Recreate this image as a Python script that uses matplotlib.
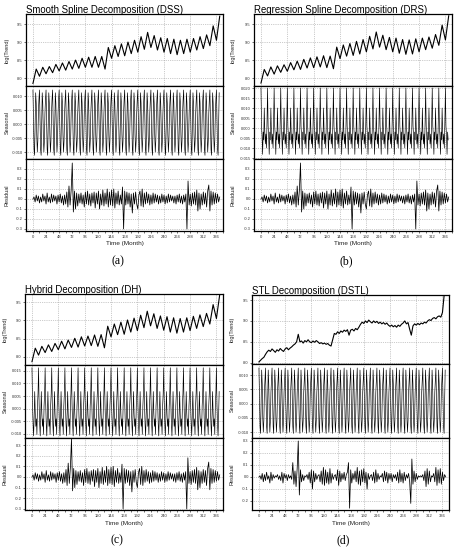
import numpy as np
import matplotlib.pyplot as plt

plt.rcParams['font.family'] = ['Liberation Sans', 'DejaVu Sans']
plt.rcParams['axes.unicode_minus'] = False

W, H = 460, 550
n_months = 342

# trend, read every 6 months (troughs and peaks of the yearly wiggle)
dss_trend = [7.85, 8.25, 8.05, 8.30, 8.12, 8.32, 8.15, 8.38, 8.20, 8.42,
             8.22, 8.46, 8.25, 8.50, 8.27, 8.55, 8.30, 8.58, 8.30, 8.60,
             8.30, 8.60, 8.25, 8.85, 8.55, 8.90, 8.60, 8.95, 8.62, 9.00,
             8.68, 9.05, 8.72, 9.15, 8.80, 9.27, 8.85, 9.18, 8.78, 9.12,
             8.72, 9.10, 8.68, 9.08, 8.65, 9.05, 8.68, 9.08, 8.72, 9.10,
             8.78, 9.15, 8.82, 9.20, 8.90, 9.45, 9.05, 9.72]
drs_trend = [7.86, 8.24, 8.06, 8.31, 8.11, 8.34, 8.16, 8.37, 8.19, 8.43,
             8.23, 8.47, 8.24, 8.52, 8.28, 8.56, 8.29, 8.59, 8.31, 8.62,
             8.29, 8.61, 8.26, 8.86, 8.54, 8.92, 8.61, 8.96, 8.63, 9.02,
             8.67, 9.07, 8.73, 9.16, 8.81, 9.28, 8.86, 9.19, 8.79, 9.13,
             8.73, 9.11, 8.69, 9.07, 8.66, 9.06, 8.67, 9.09, 8.73, 9.11,
             8.79, 9.14, 8.83, 9.21, 8.91, 9.47, 9.06, 9.73]
dh_trend = [7.87, 8.24, 8.05, 8.29, 8.12, 8.33, 8.15, 8.37, 8.20, 8.43,
            8.22, 8.46, 8.26, 8.51, 8.27, 8.55, 8.30, 8.57, 8.31, 8.60,
            8.29, 8.61, 8.25, 8.84, 8.55, 8.90, 8.61, 8.95, 8.62, 9.01,
            8.68, 9.06, 8.72, 9.14, 8.80, 9.25, 8.85, 9.18, 8.78, 9.12,
            8.73, 9.10, 8.68, 9.07, 8.65, 9.05, 8.68, 9.07, 8.72, 9.11,
            8.78, 9.15, 8.83, 9.19, 8.90, 9.43, 9.05, 9.70]
# STL trend, read every 3 months
dstl_trend = [8.02, 8.06, 8.10, 8.13, 8.20, 8.26, 8.30, 8.27, 8.33, 8.29,
              8.25, 8.31, 8.28, 8.34, 8.30, 8.27, 8.33, 8.36, 8.31, 8.35,
              8.38, 8.42, 8.45, 8.50, 8.68, 8.50, 8.52, 8.47, 8.53, 8.50,
              8.55, 8.50, 8.48, 8.52, 8.49, 8.53, 8.50, 8.46, 8.48, 8.45,
              8.47, 8.44, 8.46, 8.42, 8.40, 8.55, 8.70, 8.68, 8.74, 8.70,
              8.76, 8.73, 8.78, 8.75, 8.79, 8.66, 8.78, 8.80, 8.76, 8.82,
              8.79, 8.85, 8.92, 8.97, 8.94, 9.00, 8.96, 9.02, 8.98, 8.95,
              9.00, 8.96, 8.99, 8.94, 8.97, 8.93, 8.96, 8.92, 8.95, 8.90,
              8.87, 8.90, 8.86, 8.89, 8.85, 8.90, 8.87, 8.92, 8.95, 9.00,
              8.93, 8.96, 8.80, 8.66, 8.88, 8.93, 8.90, 8.94, 8.91, 8.95,
              8.93, 8.97, 8.95, 9.00, 9.03, 9.01, 9.06, 9.08, 9.05, 9.10,
              9.12, 9.09, 9.20, 9.60]

# one year (months 0..11) of each seasonal component
dss_season = [0.0122, 0.0020, -0.0090, -0.0112, 0.0010, 0.0112,
              0.0075, -0.0040, -0.0100, -0.0060, 0.0040, 0.0090]
drs_season = [0.0200, 0.0010, -0.0040, -0.0132, -0.0020, -0.0060,
              0.0100, -0.0020, -0.0080, -0.0030, -0.0100, 0.0030]
dh_season = [0.0162, 0.0020, -0.0060, -0.0108, -0.0030, 0.0068,
             -0.0020, -0.0070, -0.0040, -0.0102, 0.0010, 0.0060]
dstl_season = [0.0125, 0.0030, -0.0080, -0.0105, 0.0000, 0.0118,
               0.0070, -0.0050, -0.0100, -0.0060, 0.0040, 0.0080]

# residuals, read every 2 months
resid_spline = [0.00, 0.02, -0.03, 0.04, -0.02, 0.03, -0.04, 0.02, -0.03, 0.05,
                -0.02, 0.03, -0.05, 0.06, -0.03, 0.02, -0.04, 0.05, -0.03, 0.04,
                -0.02, 0.03, -0.05, 0.04, -0.03, 0.05, -0.04, 0.03, -0.06, 0.04,
                -0.05, 0.07, -0.08, 0.13, -0.06, 0.09, 0.36, -0.13, 0.08, -0.10,
                0.06, -0.07, 0.05, -0.04, 0.06, -0.05, 0.04, -0.08, 0.07, -0.05,
                0.08, -0.06, 0.05, -0.07, 0.06, -0.04, 0.07, -0.09, 0.06, -0.05,
                0.08, -0.10, 0.05, -0.06, 0.09, -0.07, 0.06, -0.05, 0.10, -0.08,
                0.07, -0.06, 0.09, -0.07, 0.10, -0.09, 0.06, -0.05, 0.08, -0.06,
                0.04, -0.05, 0.12, -0.30, 0.08, -0.06, 0.07, -0.05, 0.06, -0.08,
                0.05, -0.14, 0.06, -0.05, 0.07, -0.05, -0.10, 0.04, 0.08, -0.07,
                0.10, -0.08, 0.06, -0.05, 0.07, -0.04, 0.05, -0.06, 0.04, -0.05,
                0.06, -0.04, 0.05, -0.03, 0.04, -0.05, 0.03, -0.04, 0.05, -0.03,
                0.04, -0.05, 0.03, -0.04, 0.05, -0.03, 0.04, -0.02, 0.03, -0.04,
                0.03, -0.05, 0.04, -0.03, 0.05, -0.04, 0.03, -0.05, 0.04, -0.03,
                0.05, -0.30, 0.18, -0.06, 0.05, -0.07, 0.06, -0.05, 0.07, -0.06,
                0.09, -0.12, 0.06, -0.10, 0.05, -0.06, 0.07, -0.05, 0.06, -0.08,
                0.08, 0.14, -0.12, 0.08, -0.06, 0.07, -0.05, 0.06, -0.04, 0.05,
                -0.03, 0.02]
resid_stl = [0.00, 0.01, -0.02, 0.03, -0.04, 0.02, -0.03, 0.04, -0.02, 0.01,
             -0.05, 0.04, -0.03, 0.02, -0.01, 0.01, 0.00, 0.02, -0.02, 0.01,
             -0.03, 0.04, -0.05, 0.03, -0.01, 0.02, -0.03, 0.02, -0.01, 0.01,
             -0.02, 0.12, -0.06, 0.05, -0.08, 0.07, 0.30, -0.15, 0.06, -0.04,
             0.02, -0.03, 0.01, 0.00, 0.02, -0.02, 0.04, -0.05, 0.06, -0.10,
             0.05, -0.04, 0.03, -0.02, 0.01, 0.02, -0.04, 0.05, -0.06, 0.08,
             -0.07, 0.06, -0.05, 0.04, -0.06, 0.07, -0.05, 0.03, -0.02, 0.01,
             0.02, -0.03, 0.06, -0.07, 0.05, -0.04, 0.03, -0.02, 0.04, -0.03,
             0.02, 0.04, 0.12, -0.26, 0.06, -0.05, 0.03, -0.02, 0.05, -0.04,
             0.08, -0.06, 0.05, -0.07, 0.06, -0.04, 0.07, -0.05, 0.04, -0.10,
             0.03, -0.02, 0.01, 0.02, -0.03, 0.04, -0.05, 0.06, -0.04, 0.03,
             -0.02, 0.01, 0.00, 0.03, -0.04, 0.05, -0.03, 0.04, -0.05, 0.03,
             -0.02, 0.03, -0.04, 0.02, -0.01, 0.02, -0.03, 0.04, -0.05, 0.06,
             -0.04, 0.03, -0.05, 0.04, -0.03, 0.02, -0.01, 0.03, -0.04, -0.22,
             0.15, -0.06, 0.05, -0.04, 0.03, -0.02, 0.01, 0.00, 0.01, 0.00,
             0.02, -0.03, 0.05, -0.08, 0.07, -0.06, 0.05, -0.04, 0.01, 0.00,
             0.03, -0.04, 0.08, -0.07, 0.06, -0.05, 0.07, -0.06, 0.04, -0.03,
             0.02, 0.00]

x_ticks = np.arange(0, 337, 24)
trend_ticks = [8.0, 8.5, 9.0, 9.5]

panels = [
    dict(title='Smooth Spline Decomposition (DSS)', cap='(a)',
         box=(26, 223), rows=(14, 86, 159, 231), ylab_x=7,
         trend=dss_trend, step=6, season=dss_season, resid=resid_spline,
         tlim=(7.78, 9.78), slim=(-0.0125, 0.0136), rlim=(-0.32, 0.40),
         sticks=[-0.010, -0.005, 0.0, 0.005, 0.010],
         rticks=[-0.3, -0.2, -0.1, 0.0, 0.1, 0.2, 0.3]),
    dict(title='Regression Spline Decomposition (DRS)', cap='(b)',
         box=(254, 452), rows=(14, 86, 159, 231), ylab_x=233,
         trend=drs_trend, step=6, season=drs_season, resid=resid_spline,
         tlim=(7.78, 9.78), slim=(-0.0155, 0.021), rlim=(-0.32, 0.40),
         sticks=[-0.015, -0.010, -0.005, 0.0, 0.005, 0.010, 0.015, 0.020],
         rticks=[-0.3, -0.2, -0.1, 0.0, 0.1, 0.2, 0.3]),
    dict(title='Hybrid Decomposition (DH)', cap='(c)',
         box=(25, 223), rows=(294, 365, 438, 510), ylab_x=5,
         trend=dh_trend, step=6, season=dh_season, resid=resid_spline,
         tlim=(7.78, 9.72), slim=(-0.0116, 0.0173), rlim=(-0.31, 0.366),
         sticks=[-0.010, -0.005, 0.0, 0.005, 0.010, 0.015],
         rticks=[-0.3, -0.2, -0.1, 0.0, 0.1, 0.2, 0.3]),
    dict(title='STL Decomposition (DSTL)', cap='(d)',
         box=(252, 449), rows=(295, 364, 438, 510), ylab_x=232,
         trend=dstl_trend, step=3, season=dstl_season, resid=resid_stl,
         tlim=(7.97, 9.62), slim=(-0.0121, 0.0139), rlim=(-0.275, 0.325),
         sticks=[-0.010, -0.005, 0.0, 0.005, 0.010],
         rticks=[-0.2, -0.1, 0.0, 0.1, 0.2, 0.3]),
]

fig = plt.figure(figsize=(W / 100, H / 100), dpi=100)


def px_axes(left, right, top, bottom):
    return fig.add_axes([left / W, 1 - bottom / H, (right - left) / W, (bottom - top) / H])


def style(ax, ylim, yticks, fmt, bottom_axis):
    ax.set_xlim(-12.7, 345.5)
    ax.set_ylim(*ylim)
    ax.set_yticks(yticks)
    ax.set_yticklabels([fmt % v for v in yticks])
    ax.tick_params(axis='y', labelsize=2.9, length=1.5, width=0.4, pad=0.8,
                   labelcolor='#333')
    ax.set_xticks(x_ticks)
    ax.set_xticks(x_ticks + 12, minor=True)
    if bottom_axis:
        ax.set_xticklabels([str(v) for v in x_ticks])
        ax.tick_params(axis='x', which='both', labelsize=3.0, length=1.5,
                       width=0.4, pad=1.2, labelcolor='#333')
    else:
        ax.tick_params(axis='x', which='both', length=0, labelbottom=False)
    ax.set_axisbelow(True)
    ax.grid(axis='y', linestyle=':', color='#9a9a9a', linewidth=0.5)
    for g in range(0, 337, 48):
        ax.axvline(g, linestyle=':', color='#9a9a9a', linewidth=0.5, zorder=0)
    for s in ax.spines.values():
        s.set_linewidth(0.9)


months = np.arange(n_months)
for p in panels:
    left, right = p['box']
    r0, r1, r2, r3 = p['rows']

    ax_t = px_axes(left, right, r0, r1)
    tx = np.arange(len(p['trend'])) * p['step']
    ax_t.plot(tx, p['trend'], color='black', lw=0.8)
    style(ax_t, p['tlim'], trend_ticks, '%.1f', False)

    ax_s = px_axes(left, right, r1, r2)
    seas = np.tile(p['season'], n_months // 12 + 1)[:n_months]
    ax_s.plot(months, seas, color='black', lw=0.45)
    style(ax_s, p['slim'], p['sticks'], '%.3f', False)

    ax_r = px_axes(left, right, r2, r3)
    rx = np.arange(len(p['resid'])) * 2
    ax_r.plot(rx, p['resid'], color='black', lw=0.55)
    style(ax_r, p['rlim'], p['rticks'], '%.1f', True)

    fig.text(left / W, 1 - (r0 - 1) / H, p['title'], fontsize=6.9,
             ha='left', va='baseline')
    for lab, a, b in [('log(Trend)', r0, r1), ('Seasonal', r1, r2), ('Residual', r2, r3)]:
        fig.text(p['ylab_x'] / W, 1 - (a + b) / 2 / H, lab, rotation=90,
                 fontsize=4.0, ha='center', va='center', color='#222')
    cx = (left + right) / 2
    fig.text(cx / W, 1 - (r3 + 13) / H, 'Time (Month)', fontsize=4.6,
             ha='center', va='center', color='#222')
    fig.text((cx - 7) / W, 1 - (r3 + 30) / H, p['cap'], fontsize=8.5,
             family='Liberation Serif', ha='center', va='center')

fig.savefig('out.png', dpi=100)
